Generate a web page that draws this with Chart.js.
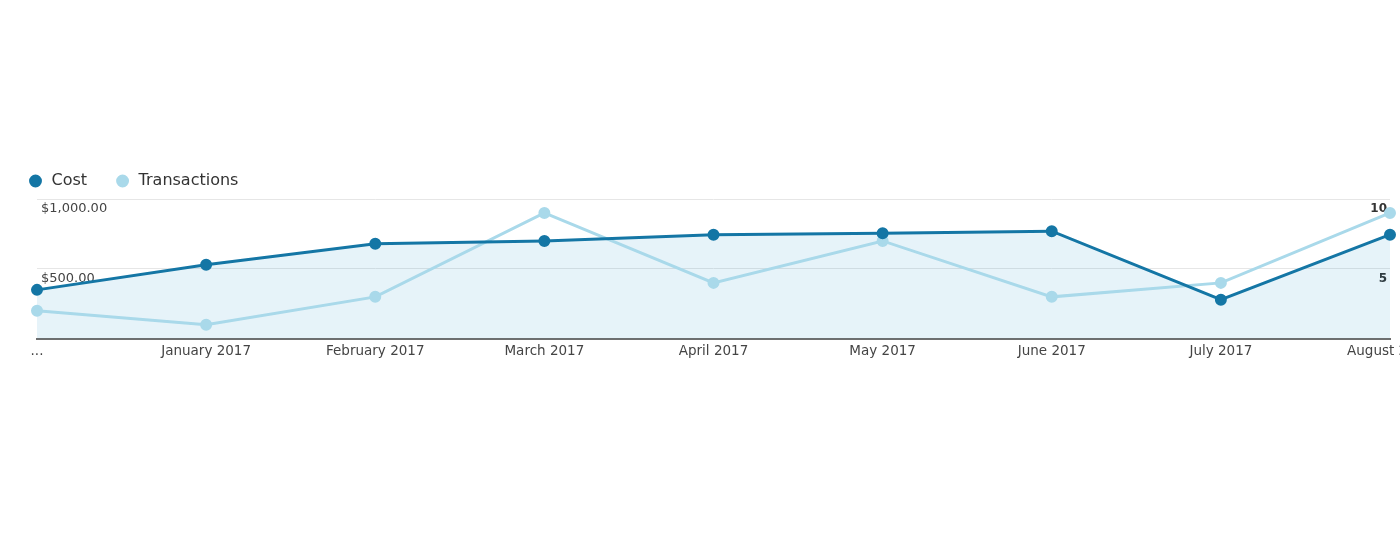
<!DOCTYPE html>
<html lang="en">

<head>
    <meta charset="utf-8">
    <title>Cost vs Transactions</title>
    <style>
        html, body { margin: 0; padding: 0; background: #fff; overflow: hidden; }
        #chartWrap { position: absolute; left: 0; top: 0; width: 1440px; height: 560px; }
    </style>
</head>

<body>
    <div id="chartWrap">
        <canvas id="myChart" width="1440" height="560"></canvas>
    </div>
    <script src="https://cdn.jsdelivr.net/npm/chart.js/dist/chart.umd.min.js"></script>
    <script>
        // chart values
        const months = ['...', 'January 2017', 'February 2017', 'March 2017', 'April 2017',
            'May 2017', 'June 2017', 'July 2017', 'August 2017'];
        const cost = [350, 530, 680, 700, 745, 755, 770, 280, 745];
        const transactions = [2, 1, 3, 9, 4, 7, 3, 4, 9];
        const costTicks = [500, 1000];
        const txTicks = [5, 10];

        const darkBlue = '#1476a5';
        const lightBlue = '#a9d9ea';
        // see-through so the axis labels under the area stay readable
        const fillBlue = 'rgba(5, 141, 199, 0.1)';

        const data = {
            labels: months,
            datasets: [{
                label: 'Cost',
                data: cost,
                yAxisID: 'yCost',
                borderColor: darkBlue,
                backgroundColor: darkBlue,
                pointBackgroundColor: darkBlue,
                borderWidth: 3,
                pointRadius: 4.5,
                pointHoverRadius: 4.5,
                tension: 0,
                fill: { target: 'origin', above: fillBlue }
            }, {
                label: 'Transactions',
                data: transactions,
                yAxisID: 'yTx',
                borderColor: lightBlue,
                backgroundColor: lightBlue,
                pointBackgroundColor: lightBlue,
                borderWidth: 3,
                pointRadius: 4.5,
                pointHoverRadius: 4.5,
                tension: 0,
                fill: false
            }]
        };

        const config = {
            type: 'line',
            data,
            options: {
                responsive: false,
                animation: false,
                layout: {
                    padding: { left: 0, right: 0, top: 145.5, bottom: 195 }
                },
                plugins: {
                    filler: { drawTime: 'beforeDatasetsDraw' },
                    tooltip: { enabled: false },
                    legend: {
                        position: 'top',
                        align: 'start',
                        labels: {
                            usePointStyle: true,
                            pointStyle: 'circle',
                            boxWidth: 16,
                            boxHeight: 7,
                            padding: 27.5,
                            color: '#333',
                            font: { family: 'DejaVu Sans', size: 16 }
                        }
                    }
                },
                scales: {
                    x: {
                        grid: { display: false, drawTicks: false },
                        border: { display: true, color: '#6f6f6f', width: 2 },
                        ticks: {
                            autoSkip: false,
                            maxRotation: 0,
                            padding: 5,
                            color: '#444',
                            font: { family: 'DejaVu Sans', size: 13.5 }
                        }
                    },
                    yCost: {
                        position: 'left',
                        min: 0,
                        max: 1000,
                        afterBuildTicks: s => { s.ticks = [0].concat(costTicks).map(v => ({ value: v })); },
                        afterFit: s => { s.width = 37; },
                        grid: {
                            drawTicks: false,
                            color: ctx => ctx.tick && ctx.tick.value === 0 ? 'rgba(0,0,0,0)' : '#e6e6e6'
                        },
                        border: { display: false },
                        ticks: {
                            mirror: true,
                            padding: 4,
                            labelOffset: 10,
                            color: '#444',
                            font: { family: 'DejaVu Sans', size: 13 },
                            callback: v => v === 0 ? '' : '$' + v.toLocaleString('en-US', { minimumFractionDigits: 2 })
                        }
                    },
                    yTx: {
                        position: 'right',
                        min: 0,
                        max: 10,
                        afterBuildTicks: s => { s.ticks = [0].concat(txTicks).map(v => ({ value: v })); },
                        afterFit: s => { s.width = 50; },
                        grid: { display: false, drawTicks: false },
                        border: { display: false },
                        ticks: {
                            mirror: true,
                            padding: -3,
                            labelOffset: 10,
                            color: '#333',
                            font: { family: 'DejaVu Sans', size: 12, weight: 'bold' },
                            callback: v => v === 0 ? '' : String(v)
                        }
                    }
                }
            }
        };

        const myChart = new Chart(document.getElementById('myChart'), config);
    </script>
</body>

</html>
